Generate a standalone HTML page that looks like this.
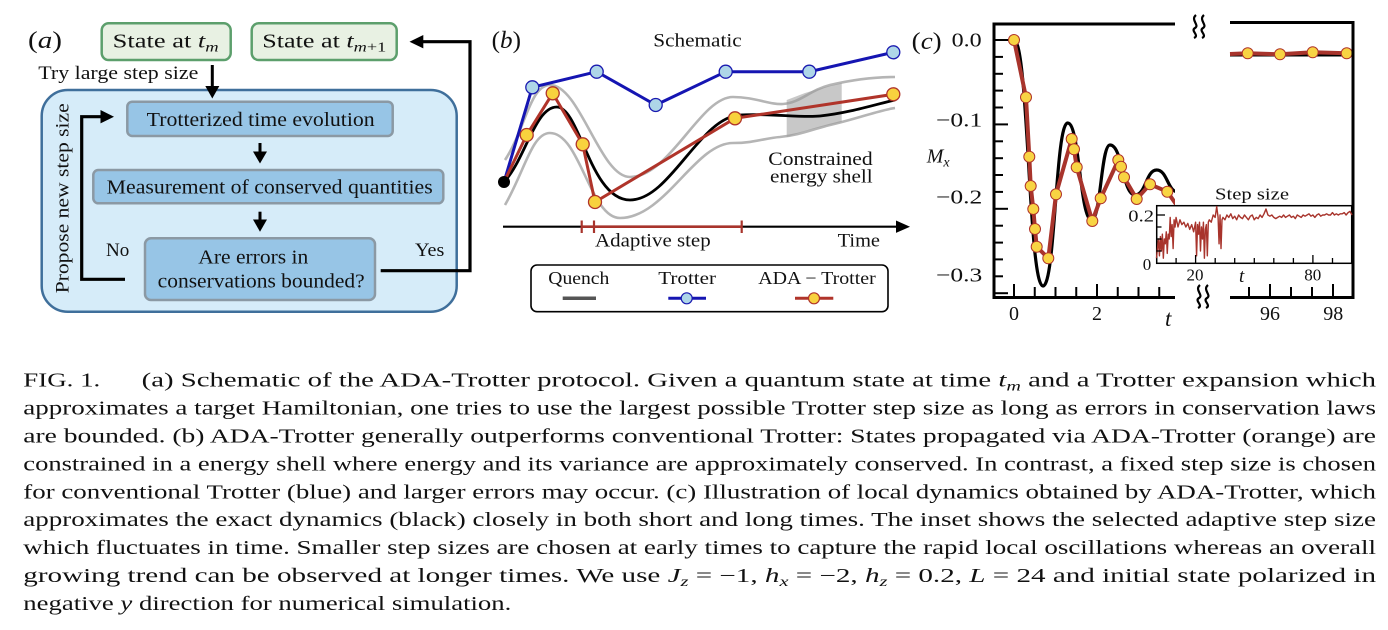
<!DOCTYPE html>
<html><head><meta charset="utf-8"><style>
html,body{margin:0;padding:0;background:#fff;}
svg{display:block;}
text{font-family:"Liberation Serif","DejaVu Serif",serif;fill:#111;}
.it{font-style:italic;}
</style></head><body>
<svg width="1388" height="630" viewBox="0 0 1388 630" xmlns="http://www.w3.org/2000/svg" font-family="Liberation Serif, DejaVu Serif, serif">
<rect width="1388" height="630" fill="#fff"/>
<defs>
<clipPath id="cl"><rect x="994" y="20" width="181" height="280"/></clipPath>
</defs>

<!-- ===== Panel (a) ===== -->
<text x="28" y="48" font-size="24" textLength="34" lengthAdjust="spacingAndGlyphs">(<tspan class="it">a</tspan>)</text>
<rect x="101.7" y="23.3" width="129" height="36.7" rx="7" fill="#e8f1e3" stroke="#5c9f6c" stroke-width="2.5"/>
<text x="112.7" y="47.7" font-size="20" textLength="106" lengthAdjust="spacingAndGlyphs">State at <tspan class="it">t</tspan><tspan class="it" font-size="14" dy="4">m</tspan></text>
<rect x="251.7" y="23.3" width="145" height="36.7" rx="7" fill="#e8f1e3" stroke="#5c9f6c" stroke-width="2.5"/>
<text x="262.3" y="47.7" font-size="20" textLength="124" lengthAdjust="spacingAndGlyphs">State at <tspan class="it">t</tspan><tspan font-size="14" dy="4"><tspan class="it">m</tspan>+1</tspan></text>
<text x="38.3" y="79" font-size="19" textLength="160" lengthAdjust="spacingAndGlyphs">Try large step size</text>

<rect x="41.7" y="90" width="415" height="221.7" rx="26" fill="#d6ecf9" stroke="#3f6f9b" stroke-width="2.5"/>
<line x1="212.3" y1="65" x2="212.3" y2="88" stroke="#000" stroke-width="3"/>
<polygon points="205.3,86 219.3,86 212.3,98.5" fill="#000"/>
<rect x="127.3" y="101.7" width="265.4" height="34.3" rx="5" fill="#97c5e6" stroke="#8b99a4" stroke-width="2.5"/>
<text x="146.7" y="126" font-size="20" textLength="228" lengthAdjust="spacingAndGlyphs">Trotterized time evolution</text>
<line x1="260" y1="143" x2="260" y2="153" stroke="#000" stroke-width="3"/>
<polygon points="253,151.5 267,151.5 260,163.5" fill="#000"/>
<rect x="93.3" y="170" width="350" height="33.3" rx="5" fill="#97c5e6" stroke="#8b99a4" stroke-width="2.5"/>
<text x="106.7" y="193.3" font-size="20" textLength="326" lengthAdjust="spacingAndGlyphs">Measurement of conserved quantities</text>
<line x1="260" y1="211.7" x2="260" y2="221" stroke="#000" stroke-width="3"/>
<polygon points="253,219.5 267,219.5 260,231.7" fill="#000"/>
<rect x="145" y="238.3" width="230" height="61.7" rx="6" fill="#97c5e6" stroke="#8b99a4" stroke-width="2.5"/>
<text x="198.3" y="263.3" font-size="20" textLength="110" lengthAdjust="spacingAndGlyphs">Are errors in</text>
<text x="157.7" y="287.3" font-size="20" textLength="207" lengthAdjust="spacingAndGlyphs">conservations bounded?</text>
<text x="106" y="256" font-size="19" textLength="23.3" lengthAdjust="spacingAndGlyphs">No</text>
<text x="415" y="256" font-size="19" textLength="29.3" lengthAdjust="spacingAndGlyphs">Yes</text>
<text transform="translate(68.3,293.3) rotate(-90)" font-size="19" textLength="190" lengthAdjust="spacingAndGlyphs">Propose new step size</text>
<polyline points="125,279.3 81.7,279.3 81.7,116.7 103,116.7" fill="none" stroke="#000" stroke-width="3.2"/>
<polygon points="100.5,110 114,116.7 100.5,123.4" fill="#000"/>
<polyline points="380.7,270.7 470,270.7 470,41.7 421,41.7" fill="none" stroke="#000" stroke-width="3.2"/>
<polygon points="423.3,35 409.5,41.7 423.3,48.4" fill="#000"/>

<!-- ===== Panel (b) ===== -->
<text x="491.7" y="48" font-size="24" textLength="29.3" lengthAdjust="spacingAndGlyphs">(<tspan class="it">b</tspan>)</text>
<text x="653.3" y="46.7" font-size="19" textLength="88.4" lengthAdjust="spacingAndGlyphs">Schematic</text>

<path d="M505,160 C525,130 530,85 550,85 C580,85 600,177 630,177 C670,177 700,97 733,97 C755,97 770,105 783,104 C800,103 810,90 830,85 C860,78 880,77 895,77" fill="none" stroke="#b5b5b5" stroke-width="2.6"/>
<path d="M505,205 C525,170 532,133 550,133 C580,133 590,218 620,218 C665,218 695,143 733,143 C755,143 765,138 780,137 C800,135 810,130 830,125 C860,118 880,110 895,108" fill="none" stroke="#b5b5b5" stroke-width="2.6"/>
<polygon points="786.7,100 805,93 825,87 841.7,83 841.7,122 825,126 805,131 786.7,137" fill="#9a9a9a" fill-opacity="0.55"/>
<path d="M504,182 C525,160 535,107 556.7,107 C580,107 590,200 630,200 C670,200 700,117 740,115 C770,113 800,118 820,116 C850,113 880,103 895,100" fill="none" stroke="#000" stroke-width="2.8"/>

<polyline points="504,182 532.3,87.3 596.7,71.7 655.7,105 725.7,71.7 809.3,71.7 893.3,52.3" fill="none" stroke="#1515b2" stroke-width="3"/>
<g fill="#aed6e8" stroke="#1a1ab0" stroke-width="1.3">
<circle cx="532.3" cy="87.3" r="6.5"/><circle cx="596.7" cy="71.7" r="6.5"/><circle cx="655.7" cy="105" r="6.5"/>
<circle cx="725.7" cy="71.7" r="6.5"/><circle cx="809.3" cy="71.7" r="6.5"/><circle cx="893.3" cy="52.3" r="6.5"/>
</g>
<polyline points="504,182 526.7,135 552.7,93.3 582.7,144.3 595,202 735,118.3 893.3,94.3" fill="none" stroke="#b0342a" stroke-width="3"/>
<g fill="#f8d23e" stroke="#b0342a" stroke-width="1.3">
<circle cx="526.7" cy="135" r="6.5"/><circle cx="552.7" cy="93.3" r="6.5"/><circle cx="582.7" cy="144.3" r="6.5"/>
<circle cx="595" cy="202" r="6.5"/><circle cx="735" cy="118.3" r="6.5"/><circle cx="893.3" cy="94.3" r="6.5"/>
</g>
<circle cx="504" cy="182" r="6" fill="#000"/>

<text x="768.3" y="165" font-size="19" textLength="104.4" lengthAdjust="spacingAndGlyphs">Constrained</text>
<text x="770" y="182.7" font-size="19" textLength="102.7" lengthAdjust="spacingAndGlyphs">energy shell</text>

<line x1="503" y1="226.7" x2="898" y2="226.7" stroke="#000" stroke-width="2.2"/>
<polygon points="896,220.5 910,226.7 896,232.9" fill="#000"/>
<line x1="581.7" y1="226.7" x2="741.7" y2="226.7" stroke="#a8342c" stroke-width="2.6"/>
<g stroke="#a8342c" stroke-width="2.2">
<line x1="581.7" y1="220.5" x2="581.7" y2="233"/><line x1="594" y1="220.5" x2="594" y2="233"/><line x1="741.7" y1="220.5" x2="741.7" y2="233"/>
</g>
<text x="595" y="246.7" font-size="19" textLength="115.7" lengthAdjust="spacingAndGlyphs">Adaptive step</text>
<text x="837.7" y="246.7" font-size="19" textLength="42.3" lengthAdjust="spacingAndGlyphs">Time</text>

<rect x="531" y="265" width="357" height="46.7" rx="6" fill="#fff" stroke="#000" stroke-width="1.6"/>
<text x="548.3" y="284" font-size="18" textLength="61" lengthAdjust="spacingAndGlyphs">Quench</text>
<text x="658.3" y="284" font-size="18" textLength="57.7" lengthAdjust="spacingAndGlyphs">Trotter</text>
<text x="758.3" y="284" font-size="18" textLength="117.4" lengthAdjust="spacingAndGlyphs">ADA − Trotter</text>
<line x1="562.7" y1="298.3" x2="596" y2="298.3" stroke="#555" stroke-width="3.5"/>
<line x1="668.3" y1="298.3" x2="706" y2="298.3" stroke="#1515b2" stroke-width="3"/>
<circle cx="686.7" cy="298.3" r="5.5" fill="#aed6e8" stroke="#1a1ab0" stroke-width="1.2"/>
<line x1="795" y1="298.3" x2="833.3" y2="298.3" stroke="#b0342a" stroke-width="3"/>
<circle cx="814" cy="298.3" r="5.5" fill="#f8d23e" stroke="#b0342a" stroke-width="1.2"/>

<!-- ===== Panel (c) ===== -->
<text x="911.7" y="49" font-size="24" textLength="30" lengthAdjust="spacingAndGlyphs">(<tspan class="it">c</tspan>)</text>
<text x="951.7" y="46.7" font-size="20" textLength="30" lengthAdjust="spacingAndGlyphs">0.0</text>
<text x="936" y="126.7" font-size="20" textLength="46.3" lengthAdjust="spacingAndGlyphs">−0.1</text>
<text x="936" y="203.3" font-size="20" textLength="46.3" lengthAdjust="spacingAndGlyphs">−0.2</text>
<text x="936" y="281.7" font-size="20" textLength="46.3" lengthAdjust="spacingAndGlyphs">−0.3</text>
<text x="926.7" y="162.7" font-size="20"><tspan class="it">M</tspan><tspan class="it" font-size="14" dy="4">x</tspan></text>

<g clip-path="url(#cl)">
<path d="M1014,40 C1028.5,40 1028.5,286 1043,286 C1055.4,286 1055.4,123 1067.7,123 C1079.7,123 1079.7,220 1091.7,220 C1100.9,220 1100.9,145 1110,145 C1122.5,145 1122.5,195 1135,195 C1145.9,195 1145.9,170 1156.7,170 C1167.5,170 1167.5,192 1178,192" fill="none" stroke="#000" stroke-width="3.2"/>
<polyline points="1014,40 1026,97.3 1029.3,156.7 1030.7,186 1033.3,209 1035,229 1036.7,246.7 1048.3,258.3 1056,194.3 1071.7,139 1074,149.3 1076.7,167.3 1092.3,221 1100.7,198.3 1118.3,160 1121,166.7 1124,177.3 1136.7,199 1150,184.3 1167.3,191.7 1178,207" fill="none" stroke="#a8342c" stroke-width="4" stroke-linejoin="round"/>
<g fill="#f8d443" stroke="#b0342a" stroke-width="1">
<circle cx="1014" cy="40" r="5.5"/><circle cx="1026" cy="97.3" r="5.5"/><circle cx="1029.3" cy="156.7" r="5.5"/>
<circle cx="1030.7" cy="186" r="5.5"/><circle cx="1033.3" cy="209" r="5.5"/><circle cx="1035" cy="229" r="5.5"/>
<circle cx="1036.7" cy="246.7" r="5.5"/><circle cx="1048.3" cy="258.3" r="5.5"/><circle cx="1056" cy="194.3" r="5.5"/>
<circle cx="1071.7" cy="139" r="5.5"/><circle cx="1074" cy="149.3" r="5.5"/><circle cx="1076.7" cy="167.3" r="5.5"/>
<circle cx="1092.3" cy="221" r="5.5"/><circle cx="1100.7" cy="198.3" r="5.5"/><circle cx="1118.3" cy="160" r="5.5"/>
<circle cx="1121" cy="166.7" r="5.5"/><circle cx="1124" cy="177.3" r="5.5"/><circle cx="1136.7" cy="199" r="5.5"/>
<circle cx="1150" cy="184.3" r="5.5"/><circle cx="1167.3" cy="191.7" r="5.5"/>
</g>
</g>

<line x1="1230" y1="55" x2="1353" y2="55" stroke="#000" stroke-width="3"/>
<polyline points="1230,54 1247.7,53.3 1280,54.3 1312.7,52.3 1346.7,53.3 1353,53.5" fill="none" stroke="#a8342c" stroke-width="4"/>
<g fill="#f8d443" stroke="#b0342a" stroke-width="1">
<circle cx="1247.7" cy="53.3" r="5.5"/><circle cx="1280" cy="54.3" r="5.5"/><circle cx="1312.7" cy="52.3" r="5.5"/><circle cx="1346.7" cy="53.3" r="5.5"/>
</g>

<g stroke="#000" stroke-width="3" fill="none">
<polyline points="1175,24 994,24 994,297.5 1175,297.5"/>
<polyline points="1230,22.5 1353,22.5 1353,297.5 1230,297.5"/>
</g>
<g stroke="#000" stroke-width="2">
<line x1="994" y1="40" x2="1008" y2="40"/><line x1="994" y1="124.4" x2="1008" y2="124.4"/><line x1="994" y1="208.8" x2="1008" y2="208.8"/><line x1="994" y1="293.2" x2="1008" y2="293.2"/>
<line x1="994" y1="56.9" x2="1003" y2="56.9"/><line x1="994" y1="73.8" x2="1003" y2="73.8"/><line x1="994" y1="90.6" x2="1003" y2="90.6"/><line x1="994" y1="107.5" x2="1003" y2="107.5"/>
<line x1="994" y1="141.3" x2="1003" y2="141.3"/><line x1="994" y1="158.2" x2="1003" y2="158.2"/><line x1="994" y1="175" x2="1003" y2="175"/><line x1="994" y1="191.9" x2="1003" y2="191.9"/>
<line x1="994" y1="225.7" x2="1003" y2="225.7"/><line x1="994" y1="242.6" x2="1003" y2="242.6"/><line x1="994" y1="259.4" x2="1003" y2="259.4"/><line x1="994" y1="276.3" x2="1003" y2="276.3"/>
<line x1="1014" y1="297.5" x2="1014" y2="284"/><line x1="1034.75" y1="297.5" x2="1034.75" y2="287"/><line x1="1055.5" y1="297.5" x2="1055.5" y2="287"/><line x1="1076.25" y1="297.5" x2="1076.25" y2="287"/>
<line x1="1097" y1="297.5" x2="1097" y2="284"/><line x1="1117.75" y1="297.5" x2="1117.75" y2="287"/><line x1="1138.5" y1="297.5" x2="1138.5" y2="287"/><line x1="1159.25" y1="297.5" x2="1159.25" y2="287"/>
<line x1="1249" y1="297.5" x2="1249" y2="287"/><line x1="1270" y1="297.5" x2="1270" y2="284"/><line x1="1291" y1="297.5" x2="1291" y2="287"/><line x1="1312" y1="297.5" x2="1312" y2="287"/><line x1="1333" y1="297.5" x2="1333" y2="284"/>
</g>
<g fill="none" stroke="#000" stroke-width="2.2">
<path d="M1196,15 C1190,20 1200,25 1195,28 C1190,31 1200,35 1194,38"/>
<path d="M1204,15 C1198,20 1208,25 1203,28 C1198,31 1208,35 1202,38"/>
<path d="M1200,285 C1194,290 1204,295 1199,298 C1194,301 1204,305 1198,308"/>
<path d="M1208,285 C1202,290 1212,295 1207,298 C1202,301 1212,305 1206,308"/>
</g>
<text x="1014" y="320" font-size="20" text-anchor="middle">0</text>
<text x="1097" y="320" font-size="20" text-anchor="middle">2</text>
<text x="1270" y="320" font-size="20" text-anchor="middle">96</text>
<text x="1333.3" y="320" font-size="20" text-anchor="middle">98</text>
<text x="1165" y="326" font-size="23" class="it">t</text>

<rect x="1156.7" y="205.7" width="195" height="57.6" fill="#fff" stroke="#000" stroke-width="1.5"/>
<g transform="translate(1156.5,263) scale(1.955,-240)">
<polyline vector-effect="non-scaling-stroke" fill="none" stroke="#a8342c" stroke-width="1.4" stroke-linejoin="round" points="0,0.02 1,0.10 1.5,0.03 2,0.11 2.5,0.05 3,0.12 3.5,0.02 4,0.10 4.5,0.08 5,0.13 5.5,0.04 6,0.12 6.5,0.10 7,0.19 7.5,0.11 8,0.16 8.5,0.06 9,0.18 9.5,0.15 10,0.19 11,0.15 12,0.18 13,0.16 14,0.17 15,0.15 16,0.165 17,0.14 18,0.16 19,0.13 20,0.17 20.5,0.03 21,0.16 21.5,0.12 22,0.17 22.5,0.05 23,0.15 23.5,0.10 24,0.17 24.5,0.02 25,0.14 25.5,0.16 26,0.03 26.5,0.17 27,0.18 28,0.17 29,0.20 30,0.19 30.8,0.235 31.5,0.19 32,0.08 32.5,0.20 33,0.06 33.5,0.18 34,0.19 35,0.18 36,0.20 37,0.19 38,0.205 39,0.185 40,0.195 41,0.18 42,0.20 43,0.19 44,0.185 45,0.20 46,0.19 47,0.18 48,0.195 49,0.20 50,0.18 51,0.19 52,0.185 53,0.20 54,0.19 55,0.205 56,0.225 57,0.20 58,0.195 59,0.20 60,0.19 61,0.185 62,0.19 63,0.195 64,0.19 65,0.20 66,0.19 67,0.195 68,0.20 69,0.19 70,0.195 71,0.185 72,0.20 73,0.195 74,0.19 75,0.20 76,0.195 77,0.2 78,0.205 79,0.195 80,0.20 81,0.19 82,0.2 83,0.205 84,0.195 85,0.2 86,0.2 87,0.205 88,0.2 89,0.2 90,0.21 91,0.2 92,0.205 93,0.2 94,0.205 95,0.205 96,0.21 97,0.2 98,0.21 99,0.215 100,0.2"/>
</g>
<g stroke="#000" stroke-width="1.3">
<line x1="1176.1" y1="263" x2="1176.1" y2="258"/><line x1="1195.6" y1="263" x2="1195.6" y2="255"/><line x1="1215.2" y1="263" x2="1215.2" y2="258"/>
<line x1="1234.7" y1="263" x2="1234.7" y2="258"/><line x1="1254.3" y1="263" x2="1254.3" y2="258"/><line x1="1273.8" y1="263" x2="1273.8" y2="258"/>
<line x1="1293.4" y1="263" x2="1293.4" y2="258"/><line x1="1312.9" y1="263" x2="1312.9" y2="255"/><line x1="1332.5" y1="263" x2="1332.5" y2="258"/>
<line x1="1156.7" y1="215" x2="1165" y2="215"/><line x1="1156.7" y1="227" x2="1161.5" y2="227"/><line x1="1156.7" y1="239" x2="1161.5" y2="239"/><line x1="1156.7" y1="251" x2="1161.5" y2="251"/>
</g>
<text x="1215" y="199.3" font-size="17" textLength="74" lengthAdjust="spacingAndGlyphs">Step size</text>
<text x="1128.3" y="221.7" font-size="17" textLength="25.7" lengthAdjust="spacingAndGlyphs">0.2</text>
<text x="1142.7" y="270" font-size="17">0</text>
<text x="1195" y="280.7" font-size="17" text-anchor="middle">20</text>
<text x="1239" y="282" font-size="19" class="it">t</text>
<text x="1312.7" y="280.7" font-size="17" text-anchor="middle">80</text>

<!-- ===== Caption ===== -->
<g font-size="20">
<text x="23.3" y="386.7" textLength="77" lengthAdjust="spacingAndGlyphs">FIG. 1.</text>
<text x="141.7" y="386.7" textLength="1234.3" lengthAdjust="spacingAndGlyphs">(a) Schematic of the ADA-Trotter protocol. Given a quantum state at time <tspan class="it">t</tspan><tspan class="it" font-size="14" dy="4">m</tspan><tspan dy="-4"> and a Trotter expansion which</tspan></text>
<text x="23.3" y="414.6" textLength="1352.7" lengthAdjust="spacingAndGlyphs">approximates a target Hamiltonian, one tries to use the largest possible Trotter step size as long as errors in conservation laws</text>
<text x="23.3" y="442.5" textLength="1352.7" lengthAdjust="spacingAndGlyphs">are bounded. (b) ADA-Trotter generally outperforms conventional Trotter: States propagated via ADA-Trotter (orange) are</text>
<text x="23.3" y="470.4" textLength="1352.7" lengthAdjust="spacingAndGlyphs">constrained in a energy shell where energy and its variance are approximately conserved. In contrast, a fixed step size is chosen</text>
<text x="23.3" y="498.3" textLength="1352.7" lengthAdjust="spacingAndGlyphs">for conventional Trotter (blue) and larger errors may occur. (c) Illustration of local dynamics obtained by ADA-Trotter, which</text>
<text x="23.3" y="526.2" textLength="1352.7" lengthAdjust="spacingAndGlyphs">approximates the exact dynamics (black) closely in both short and long times. The inset shows the selected adaptive step size</text>
<text x="23.3" y="554.1" textLength="1352.7" lengthAdjust="spacingAndGlyphs">which fluctuates in time. Smaller step sizes are chosen at early times to capture the rapid local oscillations whereas an overall</text>
<text x="23.3" y="582" textLength="1352.7" lengthAdjust="spacingAndGlyphs">growing trend can be observed at longer times. We use <tspan class="it">J</tspan><tspan class="it" font-size="14" dy="4">z</tspan><tspan dy="-4"> = −1, </tspan><tspan class="it">h</tspan><tspan class="it" font-size="14" dy="4">x</tspan><tspan dy="-4"> = −2, </tspan><tspan class="it">h</tspan><tspan class="it" font-size="14" dy="4">z</tspan><tspan dy="-4"> = 0.2, </tspan><tspan class="it">L</tspan><tspan> = 24 and initial state polarized in</tspan></text>
<text x="23.3" y="609.9" textLength="488" lengthAdjust="spacingAndGlyphs">negative <tspan class="it">y</tspan> direction for numerical simulation.</text>
</g>
</svg>
</body></html>
